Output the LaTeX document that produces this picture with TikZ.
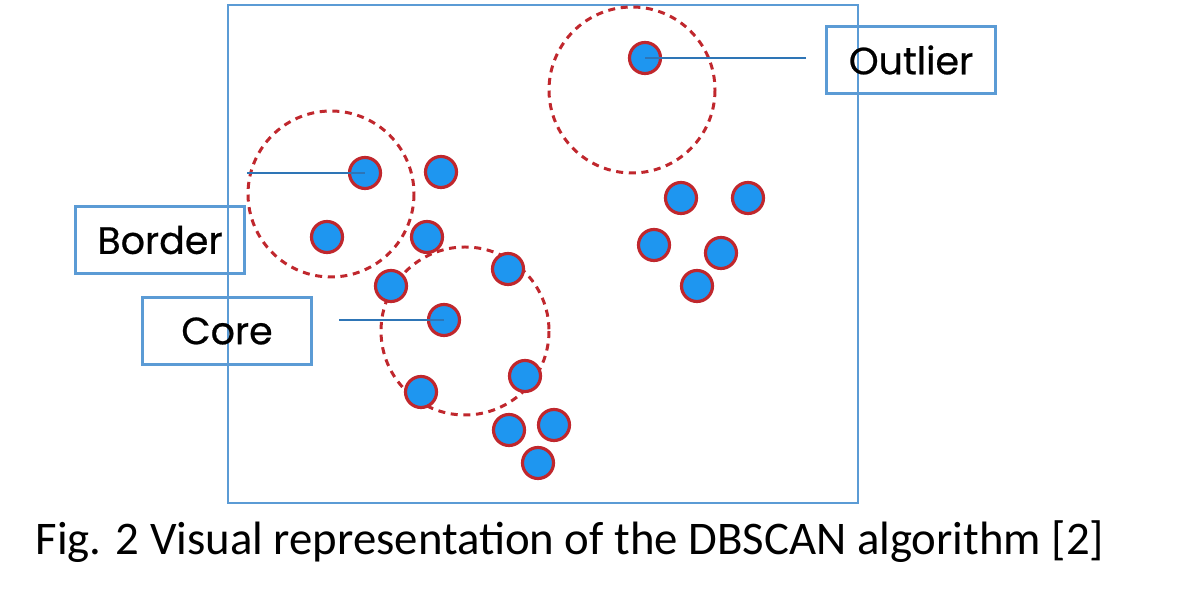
\documentclass[tikz,border=0pt]{standalone}
\usepackage{fontspec}
\setmainfont{Carlito}
\newfontfamily\labelfont[FakeBold=0.6]{Poppins}
\definecolor{ptblue}{HTML}{1E96F0}
\definecolor{ptred}{HTML}{C0272D}
\definecolor{framblue}{HTML}{5B9BD5}
\definecolor{lineblue}{HTML}{2E75B6}

\begin{document}
\begin{tikzpicture}[x=0.01cm, y=-0.01cm,
    point/.style ={circle, draw=ptred, fill=ptblue, line width=0.9pt, inner sep = 0pt, minimum size=3.1mm},
    eps/.style ={draw=ptred, line width=0.85pt, dash pattern=on 2pt off 1.6pt},
    labelbox/.style ={draw=framblue, line width=0.7pt, minimum width=1.69cm, minimum height=0.67cm, font=\labelfont\fontsize{10.8}{13}\selectfont},
    pointer/.style ={draw=lineblue, line width=0.45pt}]
   \useasboundingbox (0,0) rectangle (1200,589);
   \draw[draw=framblue, line width=0.8pt] (228,5) rectangle (858,503);

   \draw[eps] (331,194) circle (83);
   \draw[eps] (465,331) circle (84);
   \draw[eps] (632,90) circle (83);

   \node[point] (O)  at (645,58)  {};
   \node[point] (B)  at (365,173)  {};
   \node[point] (P1) at (441,172)  {};
   \node[point] (P2) at (327,237)  {};
   \node[point] (P3) at (427,237)  {};
   \node[point] (P4) at (508,269)  {};
   \node[point] (P5) at (391,286)  {};
   \node[point] (C)  at (444,320)  {};
   \node[point] (P6) at (525,376)  {};
   \node[point] (P7) at (421,392)  {};
   \node[point] (P8) at (509,430)  {};
   \node[point] (P9) at (554,425)  {};
   \node[point] (P10) at (538,463)  {};
   \node[point] (Q1) at (681,198)  {};
   \node[point] (Q2) at (748,198)  {};
   \node[point] (Q3) at (654,245)  {};
   \node[point] (Q4) at (721,253)  {};
   \node[point] (Q5) at (697,286)  {};

   \node[labelbox] (outlier) at (911,60)  {Outlier};
   \node[labelbox] (border)  at (160,240) {Border};
   \node[labelbox] (core)    at (227,331) {Core};

   \coordinate (oend) at (806,58);
   \coordinate (bend) at (247,173);
   \coordinate (cend) at (339,320);
   \draw[pointer] (oend) to (O.center);
   \draw[pointer] (bend) to (B.center);
   \draw[pointer] (cend) to (C.center);

   \node[anchor=west, inner sep=0pt, font=\fontsize{13.3}{16}\selectfont] (caption) at (35,542)
     {Fig. 2 Visual representation of the DBSCAN algorithm [2]};
 \end{tikzpicture}
\end{document}
